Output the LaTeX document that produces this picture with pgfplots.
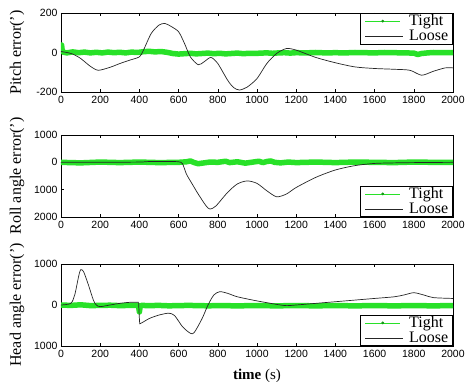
\documentclass[border=0pt]{standalone}
\usepackage{fontspec}
\setmainfont{Liberation Serif}
\setsansfont{Liberation Sans}
\usepackage{pgfplots}
\pgfplotsset{compat=1.18}
\definecolor{tgreen}{RGB}{40,225,40}
\definecolor{tgreendark}{RGB}{20,150,20}
\pgfplotsset{
  myaxis/.style={
    scale only axis, width=392pt,
    xmin=0, xmax=2000,
    xtick={0,200,...,2000},
    tick pos=both, tick align=inside, major tick length=3pt,
    axis line style={black, line width=0.6pt},
    every tick/.style={black, line width=0.5pt},
    /pgf/number format/assume math mode=true,
    /pgf/number format/1000 sep={},
    tick label style={font=\sffamily\fontsize{10.5}{12}\selectfont},
    xticklabel style={yshift=-1pt},
    every axis y label/.style={at={(axis description cs:0,0.5)}, rotate=90, anchor=center, yshift=44pt, font=\fontsize{16}{18}\selectfont},
    legend cell align=left,
    legend style={draw=black, line width=0.6pt, fill=white, font=\fontsize{16}{16}\selectfont, inner xsep=4pt, inner ysep=1.5pt, row sep=3pt,
      nodes={inner xsep=0.5pt, inner ysep=0pt},
      /tikz/every odd column/.append style={column sep=5pt}},
    clip=true,
  },
  tightl/.style={color=tgreen, line width=5.5pt, line join=round, forget plot},
  loosel/.style={color=black!85, line width=0.7pt, smooth, tension=0.45, forget plot},
  tightleg/.style={legend image code/.code={\draw[color=tgreen,line width=0.8pt] (0pt,0pt) -- (35pt,0pt); \fill[tgreendark] (17.5pt,0pt) circle (1.1pt);}},
  looseleg/.style={legend image code/.code={\draw[black!85,line width=0.8pt] (0pt,0pt) -- (38pt,0pt);}},
}
\begin{document}
\begin{tikzpicture}
\useasboundingbox (0pt,0pt) rectangle (474pt,-382pt);
% ---------- Pitch ----------
\begin{axis}[myaxis, at={(61pt,-13pt)}, anchor=north west, height=79pt,
  ymin=-200, ymax=200, ytick={-200,0,200},
  yticklabels={-200,0,200},
  ylabel={Pitch error(')},
  legend style={at={(1,1)}, anchor=north east}]
\addlegendimage{tightleg}\addlegendentry{Tight}
\addlegendimage{looseleg}\addlegendentry{Loose}
\addplot[tightl] coordinates {
(0,20)(3,38)(6,10)(10,2)(30,-2)(60,3)(90,-1)(120,2)(150,-2)(180,1)(210,-2)(240,2)(270,-1)(300,1)(330,-2)(360,2)(390,0)(420,4)(450,6)(480,3)(510,5)(540,1)(570,-5)(600,-8)(630,-6)(660,-4)(690,-7)(720,-5)(750,-3)(780,-6)(810,-4)(840,-7)(870,-5)(900,-3)(930,-6)(960,-4)(990,-5)(1020,-3)(1050,-2)(1080,-4)(1110,-2)(1140,-1)(1170,-3)(1200,-1)(1250,-2)(1300,0)(1350,-2)(1400,-1)(1450,-2)(1500,0)(1550,-1)(1600,-2)(1650,0)(1700,-1)(1750,-2)(1800,-3)(1820,-10)(1840,-5)(1870,-2)(1900,0)(1950,-1)(2000,0)};
\addplot[loosel] coordinates {
(0,5)(30,0)(60,-8)(100,-30)(150,-70)(190,-90)(250,-75)(300,-56)(350,-39)(400,-22)(420,10)(460,96)(500,139)(530,147)(560,133)(600,105)(630,46)(660,-22)(700,-62)(730,-47)(765,-25)(800,-56)(850,-140)(880,-177)(910,-190)(950,-175)(1000,-132)(1050,-56)(1100,-5)(1150,20)(1200,12)(1300,-25)(1400,-52)(1500,-73)(1600,-81)(1700,-85)(1780,-90)(1840,-115)(1900,-95)(1960,-78)(2000,-78)};
\end{axis}
% ---------- Roll ----------
\begin{axis}[myaxis, at={(61pt,-135pt)}, anchor=north west, height=82pt,
  ymin=-2000, ymax=1000, ytick={-2000,-1000,0,1000},
  yticklabels={2000,1000,0,1000},
  ylabel={Roll angle error(')},
  legend style={at={(1,0)}, anchor=south east}]
\addlegendimage{tightleg}\addlegendentry{Tight}
\addlegendimage{looseleg}\addlegendentry{Loose}
\addplot[tightl] coordinates {
(0,0)(100,-20)(200,10)(300,-10)(400,10)(500,-10)(600,0)(640,20)(660,50)(680,-10)(700,-50)(720,-30)(760,10)(800,0)(840,40)(860,-10)(900,20)(940,-30)(980,10)(1010,40)(1030,-10)(1050,30)(1070,50)(1090,0)(1120,-20)(1160,10)(1200,-10)(1300,10)(1400,-10)(1500,10)(1600,0)(1700,-10)(1800,10)(1900,0)(2000,0)};
\addplot[loosel] coordinates {
(0,0)(200,0)(400,10)(450,30)(550,30)(600,20)(620,-50)(640,-430)(670,-800)(700,-1160)(740,-1590)(760,-1710)(790,-1600)(850,-1100)(900,-790)(950,-680)(1000,-770)(1050,-1040)(1100,-1260)(1150,-1160)(1200,-920)(1300,-550)(1400,-280)(1500,-120)(1600,-40)(1700,-20)(1800,-10)(2000,0)};
\end{axis}
% ---------- Head ----------
\begin{axis}[myaxis, at={(61pt,-264pt)}, anchor=north west, height=82pt,
  ymin=-1000, ymax=1000, ytick={-1000,0,1000},
  yticklabels={1000,0,1000},
  ylabel={Head angle error(')},
  xlabel={\textbf{time} (s)},
  every axis x label/.style={at={(axis description cs:0.5,0)}, anchor=north, yshift=-20pt, font=\fontsize{15}{17}\selectfont},
  legend style={at={(1,0)}, anchor=south east}]
\addlegendimage{tightleg}\addlegendentry{Tight}
\addlegendimage{looseleg}\addlegendentry{Loose}
\addplot[tightl] coordinates {
(0,0)(50,-10)(100,5)(150,-15)(200,-10)(250,-5)(300,-15)(350,-10)(395,-10)(400,-170)(404,-30)(410,-10)(450,-15)(500,-10)(550,-20)(600,-15)(650,-10)(700,-15)(750,-20)(800,-15)(900,-20)(1000,-15)(1100,-20)(1200,-15)(1300,-20)(1400,-15)(1500,-20)(1600,-15)(1700,-20)(1800,-15)(1900,-20)(2000,-15)};
\addplot[loosel] coordinates {
(0,0)(50,40)(70,245)(90,700)(100,860)(115,815)(140,490)(165,120)(180,0)(200,-40)(250,0)(300,40)(350,65)(396,65)};
\addplot[loosel] coordinates {
(396,65)(401,-410)(406,-450)(450,-330)(500,-245)(550,-200)(580,-260)(620,-530)(660,-690)(680,-670)(720,-330)(750,0)(780,245)(810,325)(850,285)(900,200)(1000,100)(1100,15)(1150,-15)(1200,0)(1300,40)(1400,80)(1500,120)(1600,160)(1700,200)(1750,245)(1800,300)(1850,245)(1900,180)(2000,160)};
\end{axis}
\end{tikzpicture}
\end{document}
